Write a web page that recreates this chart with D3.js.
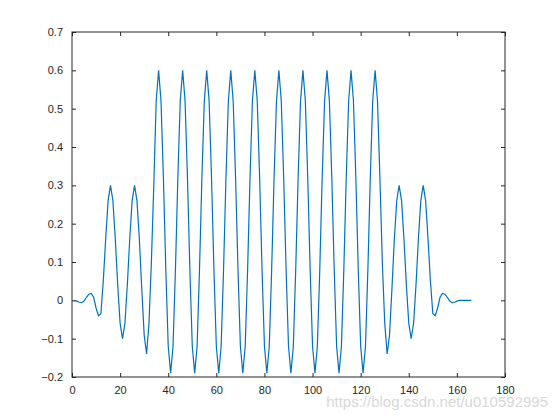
<!DOCTYPE html>
<html>
<head>
<meta charset="utf-8">
<script src="https://cdn.jsdelivr.net/npm/d3@7"></script>
<style>
  body { margin: 0; background: #fff; }
  text { font-family: "Liberation Sans", Arial, sans-serif; }
</style>
</head>
<body>
<svg id="chart" width="560" height="420"></svg>
<script>
// signal samples, x = 1..166
var yValues = [
  0, -0.002, -0.005, -0.006, -0.002, 0.008, 0.016, 0.018, 0.008, -0.02,
  -0.04, -0.035, 0.05, 0.16, 0.26, 0.3, 0.26, 0.16, 0.04, -0.06,
  -0.1, -0.06, 0.04, 0.16, 0.26, 0.3, 0.26, 0.16, 0.03, -0.09,
  -0.14, -0.06, 0.1, 0.3, 0.52, 0.6, 0.52, 0.32, 0.08, -0.12,
  -0.19, -0.12, 0.08, 0.32, 0.52, 0.6, 0.52, 0.32, 0.08, -0.12,
  -0.19, -0.12, 0.08, 0.32, 0.52, 0.6, 0.52, 0.32, 0.08, -0.12,
  -0.19, -0.12, 0.08, 0.32, 0.52, 0.6, 0.52, 0.32, 0.08, -0.12,
  -0.19, -0.12, 0.08, 0.32, 0.52, 0.6, 0.52, 0.32, 0.08, -0.12,
  -0.19, -0.12, 0.08, 0.32, 0.52, 0.6, 0.52, 0.32, 0.08, -0.12,
  -0.19, -0.12, 0.08, 0.32, 0.52, 0.6, 0.52, 0.32, 0.08, -0.12,
  -0.19, -0.12, 0.08, 0.32, 0.52, 0.6, 0.52, 0.32, 0.08, -0.12,
  -0.19, -0.12, 0.08, 0.32, 0.52, 0.6, 0.52, 0.32, 0.08, -0.12,
  -0.19, -0.12, 0.08, 0.32, 0.52, 0.6, 0.52, 0.32, 0.1, -0.06,
  -0.14, -0.09, 0.03, 0.16, 0.26, 0.3, 0.26, 0.16, 0.04, -0.06,
  -0.1, -0.06, 0.04, 0.16, 0.26, 0.3, 0.26, 0.16, 0.05, -0.035,
  -0.04, -0.02, 0.008, 0.018, 0.016, 0.008, -0.002, -0.006, -0.005, -0.002,
  0, 0, 0, 0, 0, 0
];
var xTicks = [0, 20, 40, 60, 80, 100, 120, 140, 160, 180];
var yTicks = [-0.2, -0.1, 0, 0.1, 0.2, 0.3, 0.4, 0.5, 0.6, 0.7];

var plotL = 72, plotR = 505, plotT = 32, plotB = 377;
var svg = d3.select("#chart");

var x = d3.scaleLinear().domain([0, 180]).range([plotL, plotR]);
var y = d3.scaleLinear().domain([-0.2, 0.7]).range([plotB, plotT]);

function styleAxis(g, labels) {
  g.select(".domain").remove();
  g.selectAll(".tick line").attr("stroke", "#262626");
  g.selectAll(".tick text").attr("fill", labels ? "#262626" : "none").style("font-size", "11px");
}

svg.append("g").attr("transform", "translate(0," + plotB + ")")
  .call(d3.axisBottom(x).tickValues(xTicks).tickSizeInner(-4).tickPadding(9))
  .call(function(g) { styleAxis(g, true); });
svg.append("g").attr("transform", "translate(0," + plotT + ")")
  .call(d3.axisTop(x).tickValues(xTicks).tickSizeInner(-4).tickFormat(""))
  .call(function(g) { styleAxis(g, false); });
svg.append("g").attr("transform", "translate(" + plotL + ",0)")
  .call(d3.axisLeft(y).tickValues(yTicks).tickSizeInner(-4).tickPadding(9).tickFormat(d3.format("")))
  .call(function(g) { styleAxis(g, true); });
svg.append("g").attr("transform", "translate(" + plotR + ",0)")
  .call(d3.axisRight(y).tickValues(yTicks).tickSizeInner(-4).tickFormat(""))
  .call(function(g) { styleAxis(g, false); });

svg.append("rect")
  .attr("x", plotL).attr("y", plotT)
  .attr("width", plotR - plotL).attr("height", plotB - plotT)
  .attr("fill", "none").attr("stroke", "#262626").attr("stroke-width", 1);

var line = d3.line()
  .x(function(d, i) { return x(i + 1); })
  .y(function(d) { return y(d); });

svg.append("path")
  .datum(yValues)
  .attr("d", line)
  .attr("fill", "none")
  .attr("stroke", "#0072BD")
  .attr("stroke-width", 1.2);

// watermark
svg.append("text")
  .attr("x", 548).attr("y", 407)
  .attr("text-anchor", "end")
  .attr("fill", "#d8d8d8")
  .style("font-size", "15px")
  .text("https://blog.csdn.net/u010592995");
</script>
</body>
</html>
